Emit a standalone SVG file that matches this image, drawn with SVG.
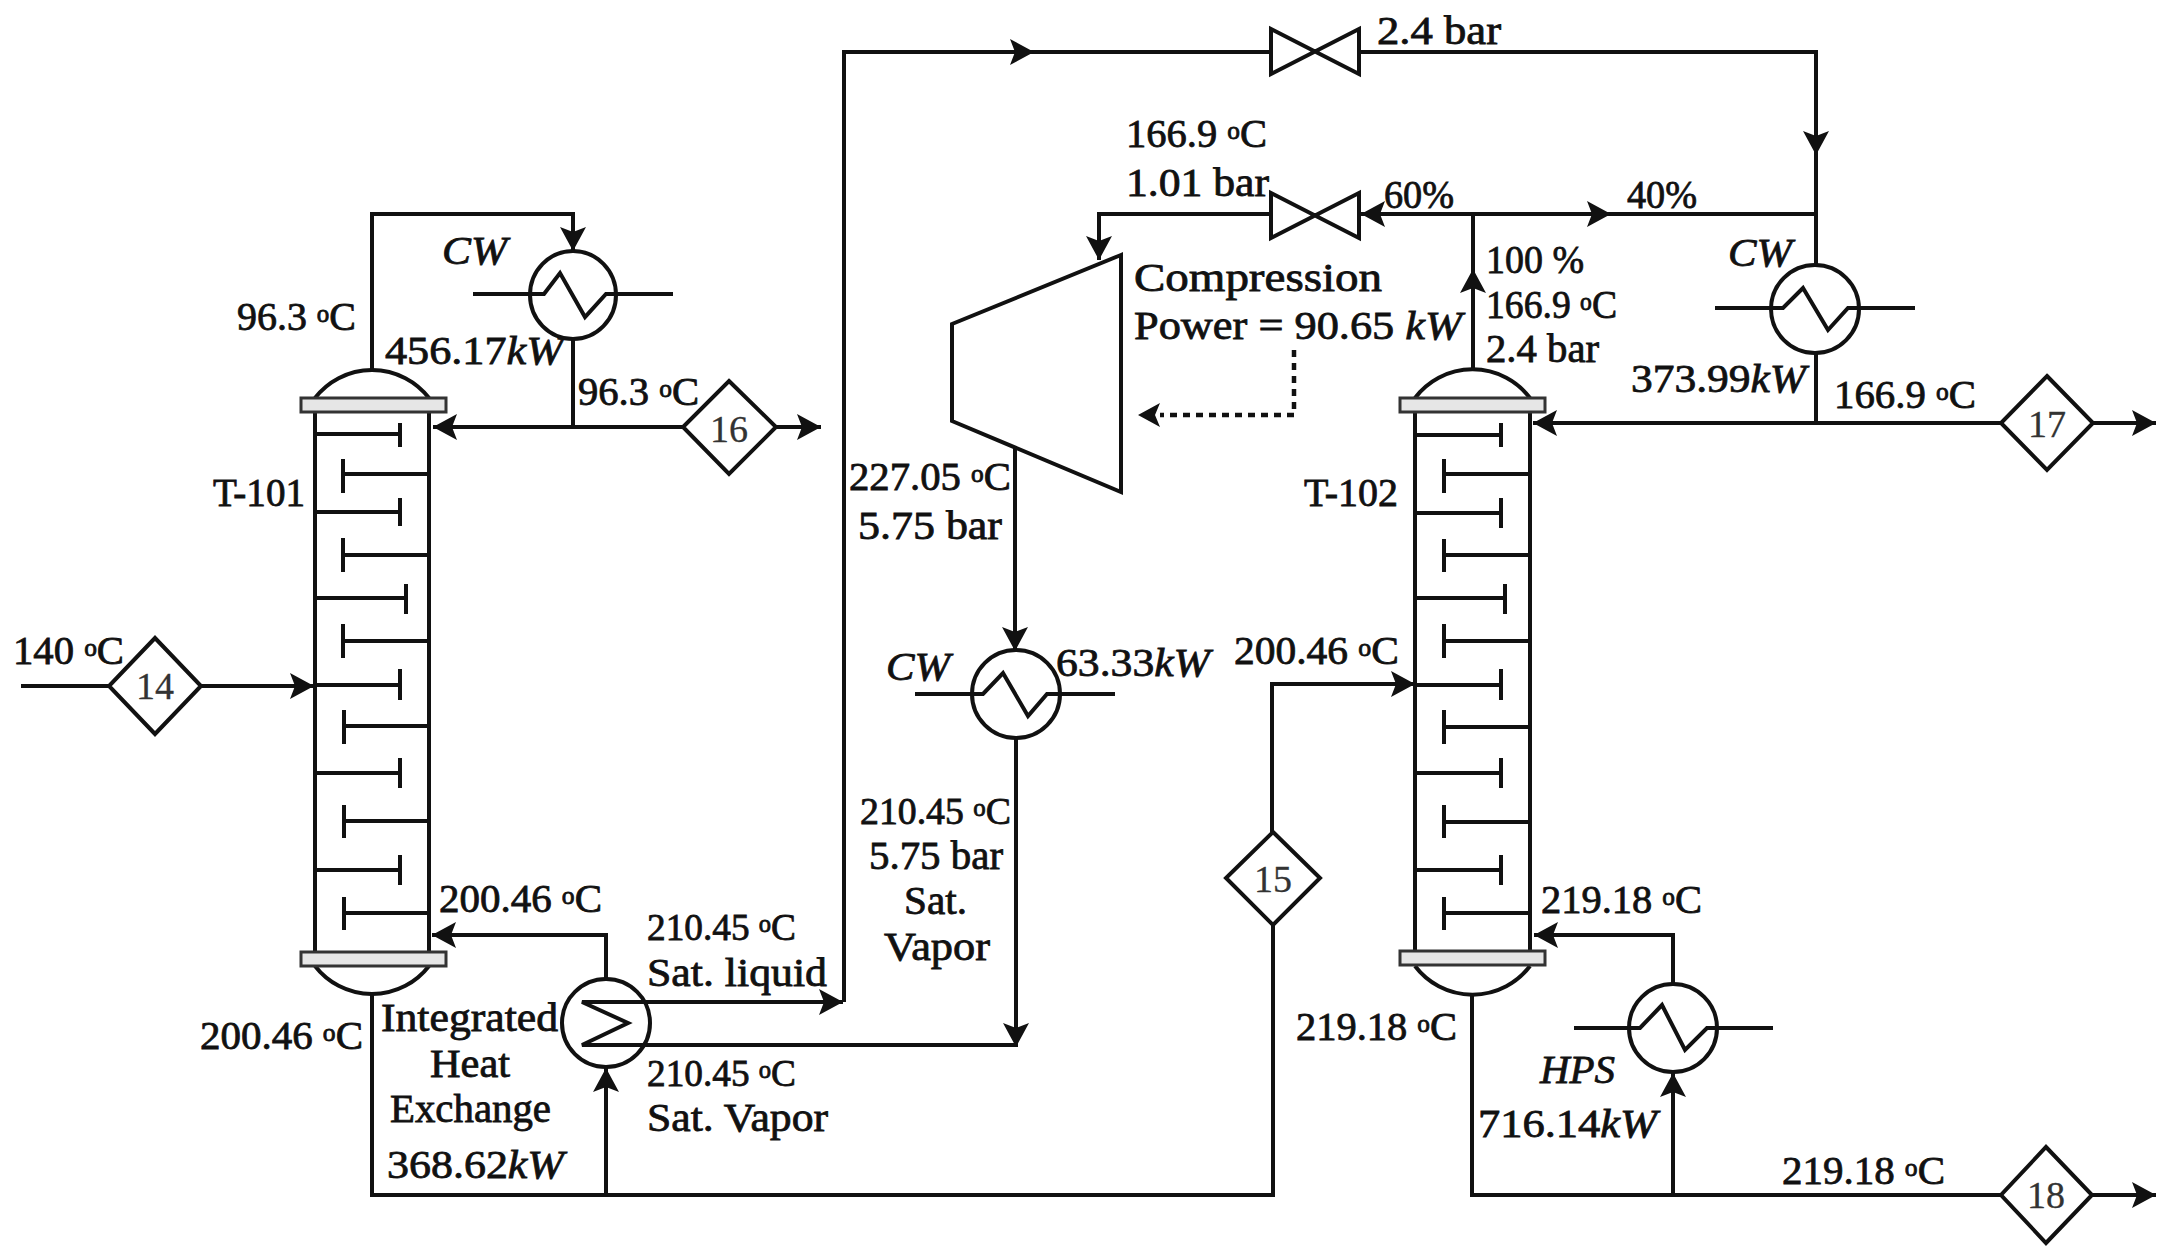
<svg xmlns="http://www.w3.org/2000/svg" width="2169" height="1259" viewBox="0 0 2169 1259">
<style>
.l{fill:none;stroke:#111;stroke-width:4;stroke-linejoin:miter}
.n{fill:#fff;stroke:#111;stroke-width:4;stroke-linejoin:miter}
.f{fill:#e6e6e6;stroke:#333;stroke-width:3}
.d{fill:none;stroke:#111;stroke-width:4.5;stroke-dasharray:7 6}
text{font-family:"Liberation Serif","Times New Roman",serif;font-size:40px;fill:#111;stroke:#111;stroke-width:.8}
.o{font-size:25px}
.i{font-style:italic}
.t{font-size:38px}
.s{fill:#333;stroke:#333;stroke-width:.3;text-anchor:middle;font-size:38px}
</style>
<defs>
<marker id="a" markerUnits="userSpaceOnUse" markerWidth="25" markerHeight="28" refX="24" refY="14" orient="auto"><path d="M24,14 L0,1 L5,14 L0,27 Z" fill="#111"/></marker>
</defs>
<rect width="2169" height="1259" fill="#fff"/>
<g id="connectors">
<path class="l" marker-end="url(#a)" d="M372,370V214H573V251"/>
<path class="l" d="M573,338V427"/>
<path class="l" marker-end="url(#a)" d="M684,427H433"/>
<path class="l" marker-end="url(#a)" d="M776,427H821"/>
<path class="l" d="M21,686H109"/>
<path class="l" marker-end="url(#a)" d="M201,686H314"/>
<path class="l" d="M372,993V1195H1273V925"/>
<path class="l" marker-end="url(#a)" d="M606,1195V1068"/>
<path class="l" marker-end="url(#a)" d="M606,979V935H432"/>
<path class="l" marker-end="url(#a)" d="M644,1002H843"/>
<path class="l" d="M844,1002V52H1271"/>
<path class="l" marker-end="url(#a)" d="M844,52H1034"/>
<path class="l" d="M644,1045H1016"/>
<path class="l" marker-end="url(#a)" d="M1016,738V1047"/>
<path class="l" marker-end="url(#a)" d="M1359,52H1816V155"/>
<path class="l" d="M1816,155V265"/>
<path class="l" marker-end="url(#a)" d="M1473,370V269"/>
<path class="l" d="M1473,269V214"/>
<path class="l" marker-end="url(#a)" d="M1816,214H1361"/>
<path class="l" marker-end="url(#a)" d="M1473,214H1611"/>
<path class="l" marker-end="url(#a)" d="M1271,214H1099V260"/>
<path class="l" marker-end="url(#a)" d="M1015,448V651"/>
<path class="d" d="M1294,350V415H1160"/>
<path d="M1138,415L1160,403L1155,415L1160,427Z" fill="#111"/>
<path class="l" d="M1816,353V423"/>
<path class="l" marker-end="url(#a)" d="M2001,423H1533"/>
<path class="l" marker-end="url(#a)" d="M2093,423H2156"/>
<path class="l" marker-end="url(#a)" d="M1272,832V684H1415"/>
<path class="l" d="M1472,994V1195H2001"/>
<path class="l" marker-end="url(#a)" d="M1673,1195V1073"/>
<path class="l" marker-end="url(#a)" d="M1673,984V935H1534"/>
<path class="l" marker-end="url(#a)" d="M2092,1195H2156"/>
</g>

<g id="T-101">
<path class="l" d="M315,398A72,72 0 0 1 429,398M315,966A72,72 0 0 0 429,966"/>
<path class="l" d="M315,412V952M429,412V952"/>
<rect class="f" x="301" y="398" width="145" height="14"/>
<rect class="f" x="301" y="952" width="145" height="14"/>
<path class="l" d="M315,434H400M400,423V447M429,474H343M343,459V493M315,512H400M400,498V526M429,555H343M343,538V572M315,598H406M406,584V614M429,641H343M343,624V658M315,685H400M400,669V700M429,726H344M344,710V744M315,773H400M400,758V788M429,821H344M344,805V838M315,870H400M400,855V885M429,913H344M344,897V930"/>
</g>
<g id="T-102">
<path class="l" d="M1415,398A72,72 0 0 1 1530,398M1415,966A72,72 0 0 0 1530,966"/>
<path class="l" d="M1415,413V951M1530,413V951"/>
<rect class="f" x="1400" y="398" width="145" height="14"/>
<rect class="f" x="1400" y="951" width="145" height="14"/>
<path class="l" d="M1415,435H1501M1501,423V447M1530,474H1444M1444,459V493M1415,513H1501M1501,498V528M1530,555H1444M1444,539V572M1415,598H1505M1505,584V614M1530,641H1444M1444,624V658M1415,685H1501M1501,669V700M1530,727H1444M1444,710V744M1415,773H1501M1501,758V788M1530,822H1444M1444,805V838M1415,870H1501M1501,855V885M1530,913H1444M1444,897V930"/>
</g>
<g id="condenser-1">
<path class="l" d="M473,294H673"/>
<ellipse class="n" cx="573" cy="295" rx="43" ry="44"/>
<path class="l" d="M530,294H544L560,273L585,317L606,294H615"/>
</g>
<g id="condenser-2">
<path class="l" d="M1715,308H1915"/>
<ellipse class="n" cx="1815" cy="309" rx="44" ry="44"/>
<path class="l" d="M1771,308H1783L1803,288L1828,330L1848,308H1859"/>
</g>
<g id="condenser-3">
<path class="l" d="M915,694H1115"/>
<ellipse class="n" cx="1016" cy="694" rx="44" ry="44"/>
<path class="l" d="M972,694H983L1003,673L1028,716L1047,694H1059"/>
</g>
<g id="reboiler">
<path class="l" d="M1574,1028H1773"/>
<ellipse class="n" cx="1673" cy="1028" rx="44" ry="44"/>
<path class="l" d="M1629,1028H1640L1662,1005L1685,1050L1707,1028H1717"/>
</g>
<g id="integrated-exchanger">
<ellipse class="n" cx="606" cy="1023" rx="44" ry="44"/>
<path class="l" d="M644,1002H582L628,1023L582,1045H644"/>
</g>
<g id="valve-1"><path class="n" d="M1271,29V74L1359,29V74Z"/></g>
<g id="valve-2"><path class="n" d="M1271,193V238L1359,193V238Z"/></g>
<g id="compressor"><path class="n" d="M1121,255L952,324V421L1121,492Z"/></g>
<g id="s14"><path class="n" d="M155,638L201,686L155,734L109,686Z"/><text class="s" x="155" y="699">14</text></g>
<g id="s15"><path class="n" d="M1273,832L1320,878L1273,925L1226,878Z"/><text class="s" x="1273" y="892">15</text></g>
<g id="s16"><path class="n" d="M729,381L776,427L729,474L683,427Z"/><text class="s" x="729" y="442">16</text></g>
<g id="s17"><path class="n" d="M2047,376L2093,423L2047,470L2001,423Z"/><text class="s" x="2047" y="437">17</text></g>
<g id="s18"><path class="n" d="M2046,1147L2092,1195L2046,1243L2001,1195Z"/><text class="s" x="2046" y="1208">18</text></g>

<g id="labels">
<text x="237" y="330" textLength="119" lengthAdjust="spacingAndGlyphs">96.3 <tspan class="o" dy="-8">o</tspan><tspan dy="8">C</tspan></text>
<text x="385" y="364" textLength="178" lengthAdjust="spacingAndGlyphs">456.17<tspan class="i">kW</tspan></text>
<text class="i" x="442" y="264" textLength="65" lengthAdjust="spacingAndGlyphs">CW</text>
<text x="578" y="405" textLength="121" lengthAdjust="spacingAndGlyphs">96.3 <tspan class="o" dy="-8">o</tspan><tspan dy="8">C</tspan></text>
<text x="213" y="506" textLength="92" lengthAdjust="spacingAndGlyphs">T-101</text>
<text x="13" y="664" textLength="111" lengthAdjust="spacingAndGlyphs">140 <tspan class="o" dy="-8">o</tspan><tspan dy="8">C</tspan></text>
<text x="439" y="912" textLength="163" lengthAdjust="spacingAndGlyphs">200.46 <tspan class="o" dy="-8">o</tspan><tspan dy="8">C</tspan></text>
<text class="t" x="647" y="940" textLength="149" lengthAdjust="spacingAndGlyphs">210.45 <tspan class="o" dy="-8">o</tspan><tspan dy="8">C</tspan></text>
<text x="647" y="986" textLength="180" lengthAdjust="spacingAndGlyphs">Sat. liquid</text>
<text x="200" y="1049" textLength="163" lengthAdjust="spacingAndGlyphs">200.46 <tspan class="o" dy="-8">o</tspan><tspan dy="8">C</tspan></text>
<text x="381" y="1031" textLength="177" lengthAdjust="spacingAndGlyphs">Integrated</text>
<text x="430" y="1077" textLength="80" lengthAdjust="spacingAndGlyphs">Heat</text>
<text x="390" y="1122" textLength="161" lengthAdjust="spacingAndGlyphs">Exchange</text>
<text x="387" y="1178" textLength="177" lengthAdjust="spacingAndGlyphs">368.62<tspan class="i">kW</tspan></text>
<text class="t" x="647" y="1086" textLength="149" lengthAdjust="spacingAndGlyphs">210.45 <tspan class="o" dy="-8">o</tspan><tspan dy="8">C</tspan></text>
<text x="647" y="1131" textLength="181" lengthAdjust="spacingAndGlyphs">Sat. Vapor</text>
<text x="1377" y="44" textLength="124" lengthAdjust="spacingAndGlyphs">2.4 bar</text>
<text x="1126" y="147" textLength="141" lengthAdjust="spacingAndGlyphs">166.9 <tspan class="o" dy="-8">o</tspan><tspan dy="8">C</tspan></text>
<text x="1126" y="196" textLength="143" lengthAdjust="spacingAndGlyphs">1.01 bar</text>
<text x="1384" y="208" textLength="70" lengthAdjust="spacingAndGlyphs">60%</text>
<text x="1627" y="208" textLength="70" lengthAdjust="spacingAndGlyphs">40%</text>
<text x="1134" y="291" textLength="248" lengthAdjust="spacingAndGlyphs">Compression</text>
<text x="1134" y="339" textLength="328" lengthAdjust="spacingAndGlyphs">Power = 90.65 <tspan class="i">kW</tspan></text>
<text x="849" y="490" textLength="162" lengthAdjust="spacingAndGlyphs">227.05 <tspan class="o" dy="-8">o</tspan><tspan dy="8">C</tspan></text>
<text x="858" y="539" textLength="144" lengthAdjust="spacingAndGlyphs">5.75 bar</text>
<text x="1304" y="506" textLength="94" lengthAdjust="spacingAndGlyphs">T-102</text>
<text x="1486" y="273" textLength="98" lengthAdjust="spacingAndGlyphs">100 %</text>
<text x="1486" y="318" textLength="131" lengthAdjust="spacingAndGlyphs">166.9 <tspan class="o" dy="-8">o</tspan><tspan dy="8">C</tspan></text>
<text x="1486" y="362" textLength="113" lengthAdjust="spacingAndGlyphs">2.4 bar</text>
<text class="i" x="1728" y="266" textLength="64" lengthAdjust="spacingAndGlyphs">CW</text>
<text x="1631" y="392" textLength="175" lengthAdjust="spacingAndGlyphs">373.99<tspan class="i">kW</tspan></text>
<text x="1834" y="408" textLength="142" lengthAdjust="spacingAndGlyphs">166.9 <tspan class="o" dy="-8">o</tspan><tspan dy="8">C</tspan></text>
<text x="1541" y="913" textLength="161" lengthAdjust="spacingAndGlyphs">219.18 <tspan class="o" dy="-8">o</tspan><tspan dy="8">C</tspan></text>
<text x="1296" y="1040" textLength="161" lengthAdjust="spacingAndGlyphs">219.18 <tspan class="o" dy="-8">o</tspan><tspan dy="8">C</tspan></text>
<text class="i" x="1540" y="1083" textLength="75" lengthAdjust="spacingAndGlyphs">HPS</text>
<text x="1478" y="1137" textLength="179" lengthAdjust="spacingAndGlyphs">716.14<tspan class="i">kW</tspan></text>
<text x="1782" y="1184" textLength="163" lengthAdjust="spacingAndGlyphs">219.18 <tspan class="o" dy="-8">o</tspan><tspan dy="8">C</tspan></text>
<text x="1056" y="676" textLength="154" lengthAdjust="spacingAndGlyphs">63.33<tspan class="i">kW</tspan></text>
<text class="i" x="886" y="680" textLength="64" lengthAdjust="spacingAndGlyphs">CW</text>
<text class="t" x="860" y="824" textLength="151" lengthAdjust="spacingAndGlyphs">210.45 <tspan class="o" dy="-8">o</tspan><tspan dy="8">C</tspan></text>
<text x="869" y="869" textLength="134" lengthAdjust="spacingAndGlyphs">5.75 bar</text>
<text x="904" y="914" textLength="63" lengthAdjust="spacingAndGlyphs">Sat.</text>
<text x="884" y="960" textLength="106" lengthAdjust="spacingAndGlyphs">Vapor</text>
<text x="1234" y="664" textLength="165" lengthAdjust="spacingAndGlyphs">200.46 <tspan class="o" dy="-8">o</tspan><tspan dy="8">C</tspan></text>
</g>
</svg>
